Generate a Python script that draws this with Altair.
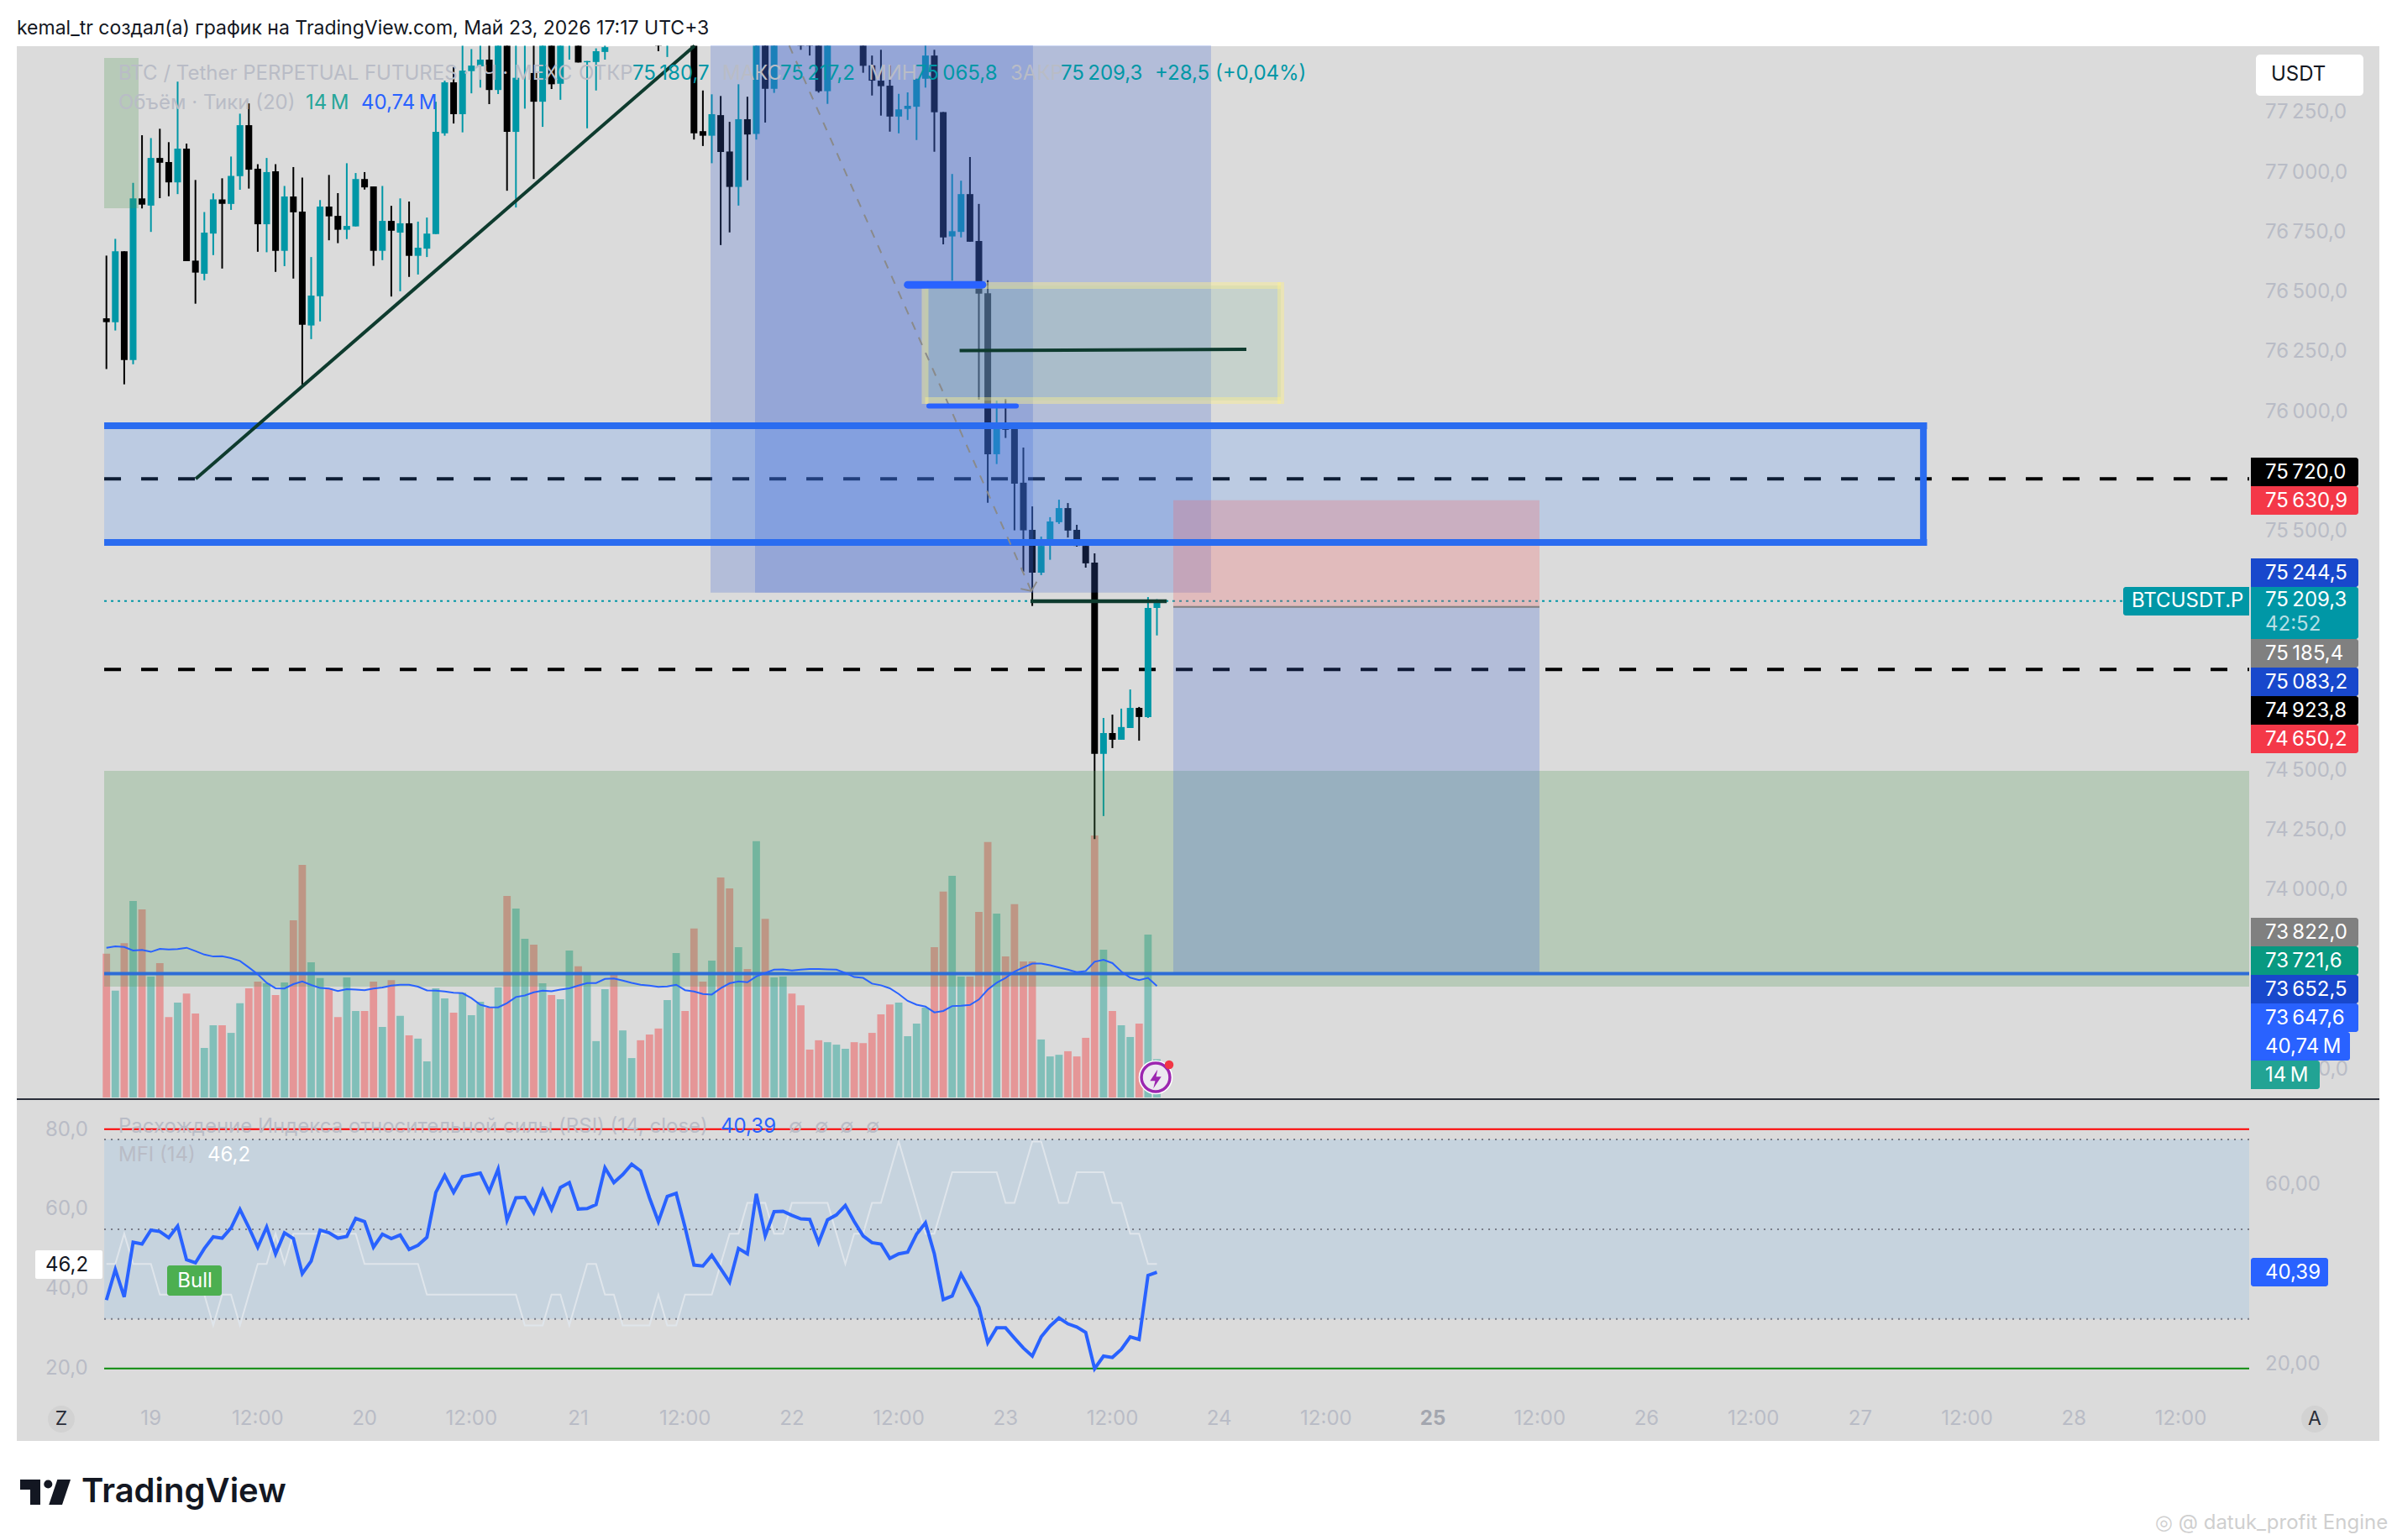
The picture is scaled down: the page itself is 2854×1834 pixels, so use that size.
import altair as alt
import pandas as pd

FONT = "Inter"
UP = "#0097a6"
DOWN = "#000000"
GREY = "#b9bcc6"
BLUE = "#2962ff"

opens = [76391,76375,76671,76217,76892,76862,77061,77044,76959,77100,76632,76577,76745,76888,76869,76985,77198,77016,76784,77005,
         76673,76900,76837,76361,76483,76858,76819,76761,76775,76973,76942,76673,76798,76749,76788,76652,76682,76743,77164,77377,
         77244,77424,77444,77472,77345,77530,77170,77530,77416,77296,77530,77371,77530,77530,77461,77462,77504,77530,77530,77530,
         77530,77530,77530,77530,77530,77530,77530,77173,77154,77240,77088,76940,77223,77161,77530,77350,77530,77530,77530,77530,
         77530,77340,77530,77530,77530,77530,77448,77384,77363,77234,77266,77275,77392,77489,77253,76733,76752,76910,76714,76496,
         75823,75945,75935,75704,75507,75328,75460,75539,75598,75507,75440,75370,74571,74658,74630,74679,74763,74725,75180.7]
highs = [76653,76723,76671,76957,77156,77144,77183,77127,77380,77121,76969,76835,76913,76976,77067,77246,77289,77035,77061,77035,
         76944,77023,76979,76647,76885,76990,76914,77039,76998,77002,76942,76944,76861,76892,76879,76795,76812,77296,77384,77440,
         77530,77516,77530,77530,77530,77530,77530,77530,77530,77530,77530,77530,77530,77530,77466,77519,77530,77530,77530,77530,
         77530,77530,77530,77530,77530,77530,77530,77343,77327,77320,77212,77369,77317,77530,77530,77530,77530,77530,77530,77530,
         77530,77530,77530,77530,77530,77530,77489,77513,77448,77329,77335,77392,77530,77513,77253,76994,76966,77065,76869,76550,
         76047,76054,75935,75851,75605,75479,75560,75633,75619,75528,75440,75409,74721,74735,74760,74840,74767,75226,75217.2]
lows = [76179,76340,76115,76199,76850,76752,76893,76901,76910,76630,76452,76550,76655,76599,76844,76928,76933,76669,76667,76585,
        76609,76557,76113,76304,76378,76717,76705,76722,76775,76929,76610,76634,76482,76504,76564,76574,76647,76743,77154,77205,
        77168,77331,77355,77286,77328,76924,76854,77267,76973,77191,77349,77304,77472,77460,77185,77343,77472,77530,77530,77530,
        77530,77530,77507,77483,77530,77530,77138,77111,77039,76697,76750,76862,76968,77138,77209,77333,77530,77530,77513,77489,
        77334,77287,77530,77530,77530,77417,77322,77238,77171,77164,77220,77136,77355,77087,76700,76548,76729,76711,76051,75620,
        75782,75891,75505,75332,75189,75318,75382,75532,75475,75437,75349,74215,74311,74595,74630,74679,74626,74721,75065.8]
closes = [76375,76671,76217,76892,76866,77061,77041,76959,77100,76630,76582,76749,76888,76869,76986,77198,77012,76784,77002,76673,
          76900,76834,76364,76486,76858,76817,76761,76777,76973,76938,76673,76798,76757,76788,76652,76686,76745,77170,77377,77244,
          77426,77447,77472,77345,77530,77170,77396,77530,77296,77530,77369,77530,77530,77460,77466,77507,77524,77530,77530,77530,
          77530,77530,77529,77530,77530,77530,77164,77154,77244,77086,76940,77223,77159,77530,77350,77530,77530,77530,77529,77529,
          77340,77530,77530,77530,77530,77446,77384,77361,77234,77264,77279,77392,77489,77252,76729,76755,76910,76711,76494,75823,
          75945,75925,75700,75505,75328,75440,75542,75598,75504,75440,75367,74571,74658,74630,74683,74763,74725,75181,75209.3]

volumes = [52.5,39.0,56.4,71.8,68.7,44.2,49.1,29.4,34.7,38.0,30.7,18.1,26.4,26.4,23.6,34.4,39.9,42.3,41.7,37.4,
           42.0,64.7,85.0,49.4,43.6,39.9,29.4,43.9,31.6,31.6,42.3,25.8,42.9,29.8,22.7,21.5,13.2,39.9,36.2,31.0,
           38.3,30.1,35.0,32.8,40.2,73.6,69.0,58.0,55.8,41.7,37.4,35.9,53.7,47.9,45.7,20.6,39.6,45.7,24.5,14.4,
           20.9,23.0,25.2,35.6,52.8,31.6,61.7,42.3,50.0,80.4,76.4,54.9,46.9,93.6,65.3,43.9,44.2,38.0,33.7,17.5,
           20.9,20.2,19.3,17.8,20.2,19.9,23.6,30.4,34.0,34.7,22.4,27.0,32.8,54.9,75.2,81.0,44.2,44.2,67.8,93.3,
           67.2,51.5,70.6,49.7,49.7,21.2,15.0,15.6,16.9,15.0,21.8,95.7,54.0,31.6,26.4,22.1,27.0,59.5,14.0]
vol_up = [0,1,0,1,0,1,0,0,1,0,0,1,1,0,1,1,0,0,1,0,
          1,0,0,1,1,0,0,1,1,0,0,1,0,1,0,1,1,1,1,0,
          1,1,1,0,1,0,1,1,0,1,0,1,1,0,1,1,1,0,1,1,
          0,0,0,1,1,0,0,0,1,0,0,1,0,1,0,1,1,0,0,0,
          0,1,1,1,0,0,0,0,0,1,1,1,1,0,0,1,1,0,0,0,
          1,0,0,0,0,1,1,1,0,0,0,0,1,0,1,1,0,1,1]
vol_ma = [54.7,55.2,55.0,53.7,53.9,53.2,54.3,54.1,54.2,54.7,53.5,52.2,51.5,51.6,50.9,49.9,47.5,45.0,41.9,39.9,
          39.8,41.4,42.4,41.1,40.0,39.8,38.9,39.6,39.4,39.2,39.8,40.2,40.9,41.2,41.2,40.5,39.1,39.0,38.7,38.3,
          38.1,36.3,33.9,33.0,32.9,34.5,36.7,37.3,38.4,39.0,38.8,39.4,39.9,40.9,41.8,41.8,43.3,43.5,42.7,41.9,
          41.2,40.9,40.4,40.6,41.2,39.2,38.7,37.8,37.6,39.9,41.7,42.4,42.1,44.2,45.5,46.7,46.8,46.4,46.7,46.9,
          46.9,46.8,46.7,45.5,44.0,43.7,41.6,41.0,39.9,37.8,35.3,33.9,33.2,31.1,31.6,33.4,33.5,33.8,35.8,39.4,
          41.9,43.7,46.0,47.5,48.9,48.9,48.3,47.5,46.7,45.8,46.2,49.6,50.3,49.1,46.0,43.8,42.9,43.7,40.74]
rsi = [34.2,41.0,34.9,47.1,46.7,49.8,49.5,48.1,50.7,43.2,42.5,45.7,48.3,48.0,50.3,54.4,50.4,46.0,50.5,44.5,
       49.2,47.9,40.1,42.9,49.8,49.2,48.0,48.4,52.4,51.7,46.0,48.9,47.9,48.7,45.5,46.4,48.2,58.2,62.0,58.2,
       61.7,62.1,62.5,58.4,63.4,52.0,57.0,57.1,53.7,58.7,54.4,59.3,60.4,54.5,54.6,55.5,63.7,60.4,62.2,64.5,
       63.0,57.0,51.7,57.3,58.0,50.4,42.0,41.8,44.2,41.2,38.2,45.7,44.5,57.9,48.5,53.9,54.0,53.1,52.3,52.2,
       47.0,52.1,53.2,55.3,51.7,48.5,47.0,46.7,43.5,44.5,44.9,48.9,51.4,44.5,34.3,35.1,40.0,36.4,32.6,24.7,
       28.0,28.0,25.7,23.5,21.7,26.0,28.4,30.2,28.9,28.2,27.0,18.9,21.7,21.4,23.2,26.0,25.4,39.7,40.39]
mfi = [46.2,46.2,53.8,46.2,46.2,46.2,38.5,38.5,38.5,38.5,38.5,38.5,30.8,38.5,38.5,30.8,38.5,46.2,46.2,53.8,
       46.2,53.8,53.8,53.8,53.8,53.8,53.8,53.8,53.8,46.2,46.2,46.2,46.2,46.2,46.2,46.2,38.5,38.5,38.5,38.5,
       38.5,38.5,38.5,38.5,38.5,38.5,38.5,30.8,30.8,30.8,38.5,38.5,30.8,38.5,46.2,46.2,38.5,38.5,30.8,30.8,
       30.8,30.8,38.5,30.8,30.8,38.5,38.5,38.5,38.5,46.2,53.8,53.8,61.5,61.5,61.5,53.8,53.8,61.5,61.5,61.5,
       61.5,61.5,53.8,46.2,53.8,53.8,61.5,61.5,69.2,76.9,69.2,61.5,53.8,53.8,61.5,69.2,69.2,69.2,69.2,69.2,
       69.2,61.5,61.5,69.2,76.9,76.9,69.2,61.5,61.5,69.2,69.2,69.2,69.2,61.5,61.5,53.8,53.8,46.2,46.2]

price_ticks = [77250,77000,76750,76500,76250,76000,75500,74500,74250,74000]
price_tick_labels = ["77\u2009250,0","77\u2009000,0","76\u2009750,0","76\u2009500,0","76\u2009250,0","76\u2009000,0",
                     "75\u2009500,0","74\u2009500,0","74\u2009250,0","74\u2009000,0"]
time_labels = ["19","12:00","20","12:00","21","12:00","22","12:00","23","12:00","24","12:00","25","12:00","26","12:00","27","12:00","28","12:00"]

P_DOM = [71310.5, 77689.5]
V_DOM = [-159.5, 398.15]
R_DOM = [-18.0, 322.45]
M_DOM = [-21.54, 361.21]
X_DOM = [-11.198, 256.54]
PTOP = 77531.6
LEFT, RIGHT = -0.25, 240.69


def xq(f="x"):
    return alt.X(f"{f}:Q", scale=alt.Scale(domain=X_DOM, nice=False, zero=False), axis=None)


def yq(dom, f="y"):
    return alt.Y(f"{f}:Q", scale=alt.Scale(domain=dom, nice=False, zero=False), axis=None)


def rect(x0, x1, y0, y1, dom, fill, op=1.0, **kw):
    d = pd.DataFrame({"x": [x0], "x1": [x1], "y": [y0], "y1": [y1]})
    return alt.Chart(d).mark_rect(fill=fill, opacity=op, **kw).encode(
        x=xq(), x2=alt.X2("x1:Q"), y=yq(dom), y2=alt.Y2("y1:Q"))


def line(xs, ys, dom, color, w, dash=None, cap="butt", op=1.0):
    d = pd.DataFrame({"x": xs, "y": ys, "o": list(range(len(xs)))})
    kw = {"strokeDash": dash} if dash else {}
    return alt.Chart(d).mark_line(color=color, strokeWidth=w, strokeCap=cap, opacity=op, **kw).encode(
        x=xq(), y=yq(dom), order="o:Q")


def box(x0, y0, x1, y1, color, **kw):
    d = pd.DataFrame({"a": [0]})
    return alt.Chart(d).mark_rect(color=color, **kw).encode(
        x=alt.value(x0 - 8), x2=alt.value(x1 - 8), y=alt.value(y0 - 8), y2=alt.value(y1 - 8))


def txt(s, x, y, size=24, color=GREY, align="left", weight=400, font=FONT):
    d = pd.DataFrame({"t": [s]})
    return alt.Chart(d).mark_text(text=s, font=font, fontSize=size, color=color, align=align,
                                  baseline="middle", fontWeight=weight, dy=1).encode(
        x=alt.value(x - 8), y=alt.value(y - 8))


def dot(x, y, size, fill=None, stroke=None, sw=0, shape="circle", op=1.0):
    d = pd.DataFrame({"a": [0]})
    kw = dict(shape=shape, size=size, opacity=op)
    if fill is not None:
        kw.update(filled=True, fill=fill)
    else:
        kw.update(filled=False)
    if stroke is not None:
        kw.update(stroke=stroke, strokeWidth=sw)
    else:
        kw.update(strokeWidth=0)
    return alt.Chart(d).mark_point(**kw).encode(x=alt.value(x - 8), y=alt.value(y - 8))


idx = list(range(len(opens)))
cdf = pd.DataFrame({"i": idx, "o": opens, "h": highs, "l": lows, "c": closes})
cdf["up"] = cdf.c >= cdf.o
cdf["x"] = cdf.i - 0.377
cdf["x1"] = cdf.i + 0.377
cdf["top"] = cdf[["o", "c"]].max(axis=1)
cdf["bot"] = cdf[["o", "c"]].min(axis=1)

vdf = pd.DataFrame({"i": idx, "v": volumes, "up": [bool(u) for u in vol_up], "z": 0.0})
vdf["x"] = vdf.i - 0.415
vdf["x1"] = vdf.i + 0.415

layers = []
# frame
layers.append(box(20, 54, 2833, 1715, "#dbdbdb"))
layers.append(rect(LEFT, RIGHT, 70, 30, R_DOM, "#c6d3de"))

# volume
for flag, col in ((True, "#81bfb9"), (False, "#e59697")):
    layers.append(alt.Chart(vdf[vdf.up == flag]).mark_rect(fill=col).encode(
        x=xq(), x2=alt.X2("x1:Q"), y=yq(V_DOM, "v"), y2=alt.Y2("z:Q")))

# levels under the zones
layers.append(line([LEFT, RIGHT], [75720.0, 75720.0], P_DOM, "#000000", 4, dash=[20, 24]))
layers.append(line([LEFT, RIGHT], [74923.8, 74923.8], P_DOM, "#000000", 4, dash=[20, 24]))

# candles
for flag, col in ((True, UP), (False, DOWN)):
    sub = cdf[cdf.up == flag]
    layers.append(alt.Chart(sub).mark_rule(color=col, strokeWidth=2).encode(
        x=alt.X("i:Q", scale=alt.Scale(domain=X_DOM, nice=False, zero=False), axis=None),
        y=yq(P_DOM, "h"), y2=alt.Y2("l:Q")))
    layers.append(alt.Chart(sub).mark_rect(fill=col).encode(
        x=xq(), x2=alt.X2("x1:Q"), y=yq(P_DOM, "top"), y2=alt.Y2("bot:Q")))

# last price dotted
layers.append(line([LEFT, 226.5], [75209.3, 75209.3], P_DOM, UP, 2, dash=[3, 5]))

# zones
ZG = "#4c9850"
ZB = "#3b63d3"
layers.append(rect(LEFT, RIGHT, 74500, 73598, P_DOM, ZG, 0.25))
layers.append(rect(LEFT, 3.61, 77479, 76851, P_DOM, ZG, 0.25))
layers.append(rect(67.86, 124.08, PTOP, 75244.5, P_DOM, ZB, 0.25))
layers.append(rect(72.86, 104.08, PTOP, 75244.5, P_DOM, ZB, 0.25))
layers.append(rect(LEFT, 204.1, 75942, 75454, P_DOM, "#408bff", 0.2))
layers.append(rect(119.84, 160.97, 75630.9, 75185.4, P_DOM, "#f0686c", 0.28))
layers.append(rect(119.84, 160.97, 75185.4, 73652.5, P_DOM, ZB, 0.25))
layers.append(rect(91.96, 131.92, 76528, 76047, P_DOM, "#96beaa", 0.3))
for xs, ys in (([91.96, 131.92], [76528, 76528]), ([91.96, 131.92], [76047, 76047]),
               ([91.96, 91.96], [76542, 76033]), ([131.92, 131.92], [76542, 76033])):
    layers.append(line(xs, ys, P_DOM, "#fff28a", 8, op=0.43))

# box edges
EDGE = "#2a6cf0"
layers.append(line([LEFT, 204.5], [75942, 75942], P_DOM, EDGE, 8))
layers.append(line([LEFT, 204.5], [75454, 75454], P_DOM, EDGE, 8))
layers.append(line([204.1, 204.1], [75956, 75440], P_DOM, EDGE, 8))

# drawn lines
DG = "#0e3b2e"
layers.append(line([10.03, 66.07], [75720, 77530], P_DOM, DG, 4))
layers.append(line([95.84, 128.05], [76256, 76261], P_DOM, DG, 4))
layers.append(line([103.8, 119.1], [75209, 75209], P_DOM, DG, 4.5))
layers.append(line([119.84, 160.97], [75185.4, 75185.4], P_DOM, "#7f7f7f", 2))
layers.append(line([76.7, 103.9], [77530, 75251], P_DOM, "#8a8a8a", 2, dash=[10, 10]))
layers.append(line([102.7, 103.9, 104.5], [75261, 75251, 75290], P_DOM, "#8a8a8a", 2))
layers.append(line([90.0, 98.42], [76531, 76531], P_DOM, BLUE, 9, cap="round"))
layers.append(line([92.39, 102.2], [76025, 76025], P_DOM, BLUE, 6, cap="round"))

# volume overlay
layers.append(line([LEFT, RIGHT], [73652.5, 73652.5], P_DOM, "#2d6dd6", 4))
layers.append(alt.Chart(pd.DataFrame({"x": idx, "y": vol_ma})).mark_line(color=BLUE, strokeWidth=2).encode(
    x=xq(), y=yq(V_DOM)))

# lower pane
layers.append(box(20, 1307, 2833, 1309, "#2a2e39"))
layers.append(line([LEFT, RIGHT], [80, 80], M_DOM, "#ff0000", 2))
layers.append(line([LEFT, RIGHT], [20, 20], M_DOM, "#0a8a0a", 2))
for lv in (70, 50, 30):
    layers.append(line([LEFT, RIGHT], [lv, lv], R_DOM, "#787b86", 2, dash=[2, 6]))
layers.append(alt.Chart(pd.DataFrame({"x": idx, "y": mfi})).mark_line(color="#dfe5eb", strokeWidth=2).encode(
    x=xq(), y=yq(M_DOM)))
layers.append(alt.Chart(pd.DataFrame({"x": idx, "y": rsi})).mark_line(color=BLUE, strokeWidth=4).encode(
    x=xq(), y=yq(R_DOM)))

# header + legend text
layers.append(txt("kemal_tr создал(а) график на TradingView.com, Май 23, 2026 17:17 UTC+3", 20, 32, 23, "#131722"))
for s, x, c in (("BTC / Tether PERPETUAL FUTURES · 1Ч · MEXC", 141, GREY), ("ОТКР", 689, GREY), ("75\u2009180,7", 753, UP),
                ("МАКС", 860, GREY), ("75\u2009217,2", 929, UP), ("МИН", 1034, GREY), ("75\u2009065,8", 1090, UP),
                ("ЗАКР", 1203, GREY), ("75\u2009209,3", 1263, UP), ("+28,5 (+0,04%)", 1375, UP)):
    layers.append(txt(s, x, 86, 24, c))
for s, x, c in (("Объём · Тики (20)", 141, GREY), ("14\u2009M", 364, "#26a69a"), ("40,74\u2009M", 430, BLUE)):
    layers.append(txt(s, x, 121, 24, c))
layers.append(txt("Расхождение Индекса относительной силы (RSI) (14, close)", 141, 1340, 24, GREY))
layers.append(txt("40,39", 858, 1340, 24, BLUE))
for x in (939, 970, 1000, 1031):
    layers.append(txt("∅", x, 1340, 24, GREY))
layers.append(txt("MFI (14)", 141, 1374, 24, GREY))
layers.append(txt("46,2", 247, 1374, 24, "#ffffff"))

# price scale ticks
tick_df = pd.DataFrame({"y": price_ticks, "t": price_tick_labels})
layers.append(alt.Chart(tick_df).mark_text(font=FONT, fontSize=24, color=GREY, align="left", baseline="middle").encode(
    x=alt.value(2697 - 8), y=yq(P_DOM), text="t:N"))
layers.append(txt("0,0", 2796, 1272, 24, GREY, align="right"))

# price tags
for s, y0, y1, x1, c in (("75\u2009720,0", 544, 578, 2808, "#000000"), ("75\u2009630,9", 578, 612, 2808, "#f43848"),
                         ("75\u2009244,5", 664, 698, 2808, "#1848cc"), ("75\u2009209,3", 698, 760, 2808, UP),
                         ("75\u2009185,4", 760, 794, 2808, "#808080"), ("75\u2009083,2", 794, 828, 2808, "#1848cc"),
                         ("74\u2009923,8", 828, 862, 2808, "#000000"), ("74\u2009650,2", 862, 896, 2808, "#f43848"),
                         ("73\u2009822,0", 1092, 1126, 2808, "#808080"), ("73\u2009721,6", 1126, 1160, 2808, "#089981"),
                         ("73\u2009652,5", 1160, 1194, 2808, "#1848cc"), ("73\u2009647,6", 1194, 1228, 2808, BLUE),
                         ("40,74\u2009M", 1228, 1262, 2798, BLUE), ("14\u2009M", 1262, 1296, 2762, "#22a394")):
    layers.append(box(2680, y0, x1, y1, c, cornerRadiusTopRight=3, cornerRadiusBottomRight=3))
    ty = (y0 + y1) / 2 if y1 - y0 == 34 else y0 + 15
    layers.append(txt(s, 2697, ty, 24, "#ffffff"))
layers.append(txt("42:52", 2697, 742, 24, "#b5dfe4"))
layers.append(box(2528, 698, 2678, 732, UP, cornerRadiusTopLeft=3, cornerRadiusBottomLeft=3))
layers.append(txt("BTCUSDT.P", 2538, 714, 24, "#ffffff"))

# USDT button
layers.append(box(2686, 64, 2814, 113, "#ffffff", cornerRadius=5))
layers.append(txt("USDT", 2704, 87, 24, "#131722"))

# lower pane labels
for s, y in (("80,0", 1344), ("60,0", 1438), ("40,0", 1533), ("20,0", 1628)):
    layers.append(txt(s, 54, y, 24, GREY))
layers.append(box(42, 1488, 122, 1522, "#ffffff", cornerRadius=2))
layers.append(txt("46,2", 54, 1505, 24, "#131722"))
layers.append(box(199, 1506, 264, 1542, "#4caf50", cornerRadius=3))
layers.append(txt("Bull", 232, 1524, 24, "#ffffff", align="center"))
for s, y in (("60,00", 1409), ("20,00", 1623)):
    layers.append(txt(s, 2697, y, 24, GREY))
layers.append(box(2680, 1497, 2772, 1531, BLUE, cornerRadius=3))
layers.append(txt("40,39", 2697, 1514, 24, "#ffffff"))

# time axis
time_df = pd.DataFrame({"x": [5 + 12 * k for k in range(len(time_labels))], "t": time_labels})
time_df["b"] = time_df.t == "25"
layers.append(alt.Chart(time_df[~time_df.b]).mark_text(font=FONT, fontSize=24, color=GREY, align="center", baseline="middle").encode(
    x=xq(), y=alt.value(1689 - 8), text="t:N"))
layers.append(alt.Chart(time_df[time_df.b]).mark_text(font=FONT, fontSize=24, color="#a3a6af", fontWeight=700, align="center", baseline="middle").encode(
    x=xq(), y=alt.value(1689 - 8), text="t:N"))
layers.append(dot(73, 1689, 1018, fill="#d2d2d2"))
layers.append(txt("Z", 73, 1688, 23, "#2a2e39", align="center"))
layers.append(dot(2756, 1689, 1018, fill="#d2d2d2"))
layers.append(txt("A", 2756, 1688, 23, "#2a2e39", align="center"))

# alert icon
layers.append(dot(1376, 1282, 1650, fill="#ffffff"))
layers.append(dot(1376, 1282, 1150, fill="#ece8f0", stroke="#9c27b0", sw=3.5))
layers.append(dot(1376, 1284, 500, fill="#9c27b0",
                  shape="M0.2,-1 L-0.6,0.2 L-0.05,0.2 L-0.25,1 L0.6,-0.25 L0.05,-0.25 Z"))
layers.append(dot(1392, 1267, 110, fill="#f23645"))

# logo
LOGO = "#131722"
layers.append(box(24, 1761, 48, 1773, LOGO))
layers.append(box(36, 1761, 48, 1791, LOGO))
layers.append(dot(57.3, 1766.5, 102, fill=LOGO))
layers.append(dot(71, 1776, 900, fill=LOGO, shape="M-0.18,-1 L0.87,-1 L0.2,1 L-0.85,1 Z"))
layers.append(txt("TradingView", 97, 1775, 40, LOGO, weight=600))
layers.append(txt("◎ @ datuk_profit Engine", 2566, 1812, 24, "#cfcfcf"))

chart = alt.layer(*layers).resolve_scale(y="independent").properties(
    width=2838, height=1818, padding={"left": 0, "top": 1, "right": 0, "bottom": 0},
    autosize="none", background="#ffffff"
).configure_view(stroke=None)

chart.save("out.html", embed_options={"renderer": "svg", "actions": False})
